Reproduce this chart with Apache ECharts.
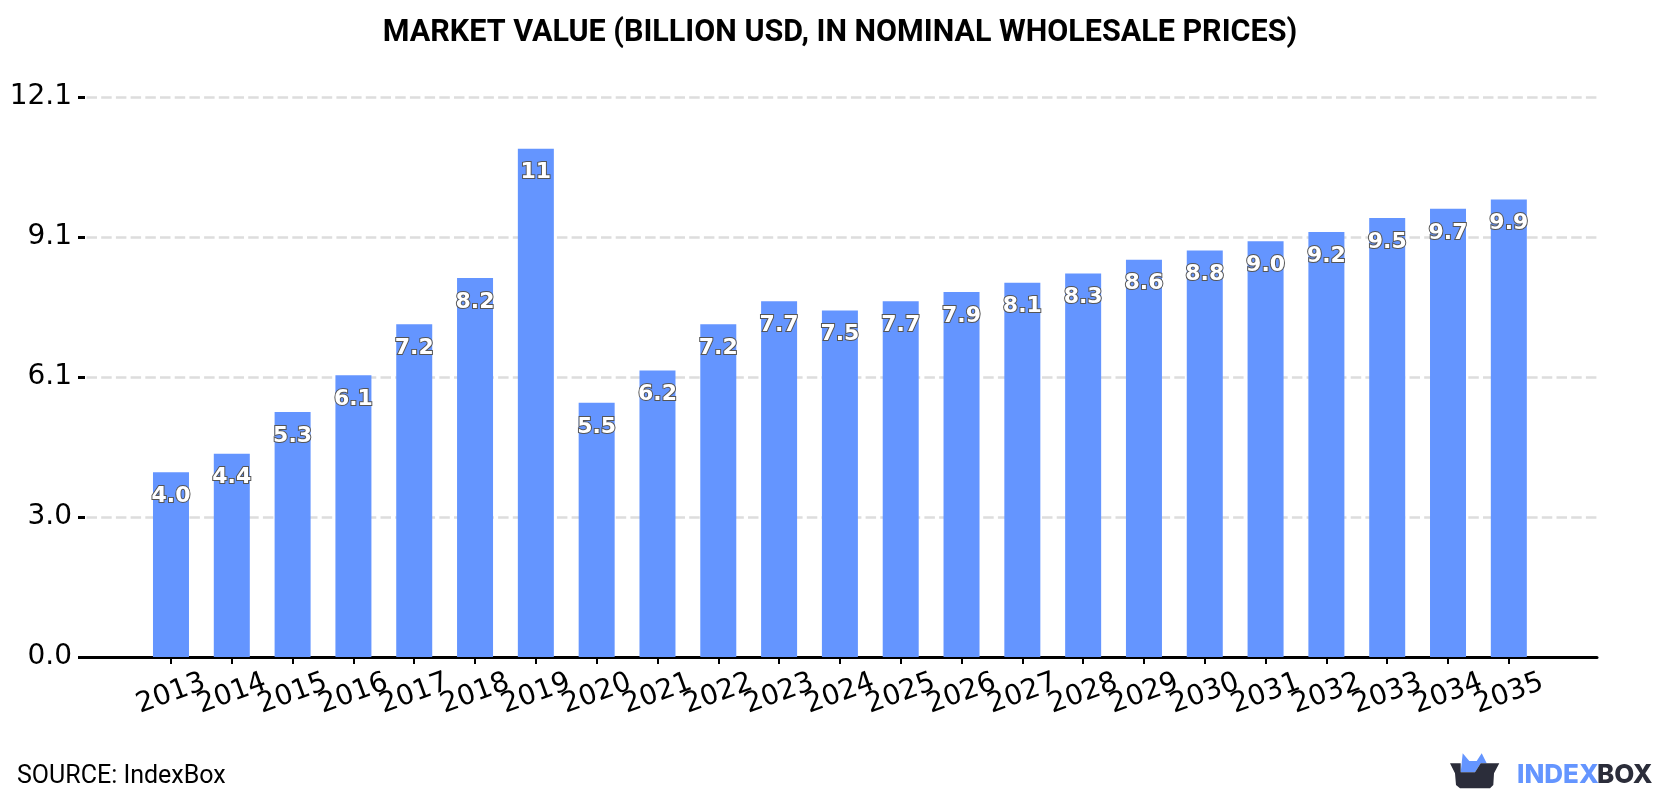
<!DOCTYPE html>
<html>
<head>
<meta charset="utf-8">
<style>html,body{margin:0;padding:0;background:#fff}#chart{width:1680px;height:800px}</style>
<script src="https://cdn.jsdelivr.net/npm/echarts@6/dist/echarts.min.js"></script>
</head>
<body>
<div id="chart"></div>
<script>
// Market value series, billion USD
const years = [2013,2014,2015,2016,2017,2018,2019,2020,2021,2022,2023,2024,2025,2026,2027,2028,2029,2030,2031,2032,2033,2034,2035];
const marketValue = [4.0,4.4,5.3,6.1,7.2,8.2,11,5.5,6.2,7.2,7.7,7.5,7.7,7.9,8.1,8.3,8.6,8.8,9.0,9.2,9.5,9.7,9.9];
const yStep = 3.03;
const yMax = 12.12;
const xMin = 2011.586;
const xMax = 2036.45;
const titleText = 'MARKET VALUE (BILLION USD, IN NOMINAL WHOLESALE PRICES)';
const sourceText = 'SOURCE: IndexBox';

const barData = years.map((y, i) => [y, marketValue[i]]);

const chart = echarts.init(document.getElementById('chart'), null, {renderer: 'canvas'});
chart.setOption({
  animation: false,
  backgroundColor: '#fff',
  title: {
    text: titleText, left: 835, top: 13, textAlign: 'center',
    textStyle: {fontFamily: 'Roboto', fontWeight: 700, fontSize: 30.5, color: '#000'}
  },
  grid: {left: 85, right: 83, top: 97, bottom: 143},
  xAxis: {
    type: 'value',
    min: xMin,
    max: xMax,
    splitLine: {show: false},
    axisLine: {lineStyle: {color: '#000', width: 3}},
    axisTick: {customValues: years, length: 7, lineStyle: {color: '#000', width: 2}},
    axisLabel: {
      // Blank labels at the axis ends stop the overlap check dropping the neighbouring years
      customValues: [xMin, ...years, xMax],
      rotate: 20, align: 'center', verticalAlign: 'top', margin: 22, padding: [0, 10, 0, 0],
      fontFamily: 'DejaVu Sans', fontSize: 28, color: '#000',
      formatter: v => (years.includes(v) ? String(v) : ''),
      showMinLabel: true, showMaxLabel: true
    }
  },
  yAxis: {
    type: 'value', min: 0, max: yMax, interval: yStep,
    axisLine: {show: false},
    axisTick: {show: true, length: 7, lineStyle: {color: '#000', width: 3}},
    axisLabel: {
      margin: 13, padding: [6, 0, 0, 0], fontFamily: 'DejaVu Sans', fontSize: 28, color: '#000',
      formatter: v => v.toFixed(1)
    },
    splitLine: {lineStyle: {color: '#dddddd', width: 2.5, type: [10.5, 4.2], dashOffset: 13.2}}
  },
  series: [{
    type: 'bar',
    data: barData,
    barWidth: 36,
    itemStyle: {color: '#6495ff'},
    label: {
      show: true, position: 'insideTop', distance: 13,
      fontFamily: 'DejaVu Sans', fontWeight: 700, fontSize: 22, color: '#fff',
      textBorderColor: '#555', textBorderWidth: 2,
      formatter: p => Number(p.value[1]).toPrecision(2)
    }
  }],
  graphic: [
    {type: 'text', left: 17, top: 764, style: {text: sourceText, fontFamily: 'Roboto', fontSize: 25, fill: '#000'}},
    // IndexBox logo: open box with a blue crown
    {type: 'polygon', shape: {points: [[1460.7,772.3],[1462.7,753.3],[1469.3,761],[1476.7,761],[1481.7,753.3],[1486.7,763.3],[1480.7,763.3],[1475,772.3]]}, style: {fill: '#6495ff'}},
    {type: 'polygon', shape: {points: [[1450,763.3],[1460.7,763.3],[1460.7,772.3],[1475,772.3],[1480.7,763.3],[1499.3,763.3],[1494,773.3],[1493.3,785],[1490,788.3],[1460,788.3],[1456,785],[1455,773.3]]}, style: {fill: '#2b2d3a'}},
    {type: 'text', left: 1517, top: 762, style: {text: 'INDEX', fontFamily: 'Inter', fontWeight: 800, fontSize: 26, fill: '#6495ff'}},
    {type: 'text', left: 1597, top: 762, style: {text: 'BOX', fontFamily: 'Inter', fontWeight: 800, fontSize: 26, fill: '#2b2d3a'}}
  ]
});
</script>
</body>
</html>
